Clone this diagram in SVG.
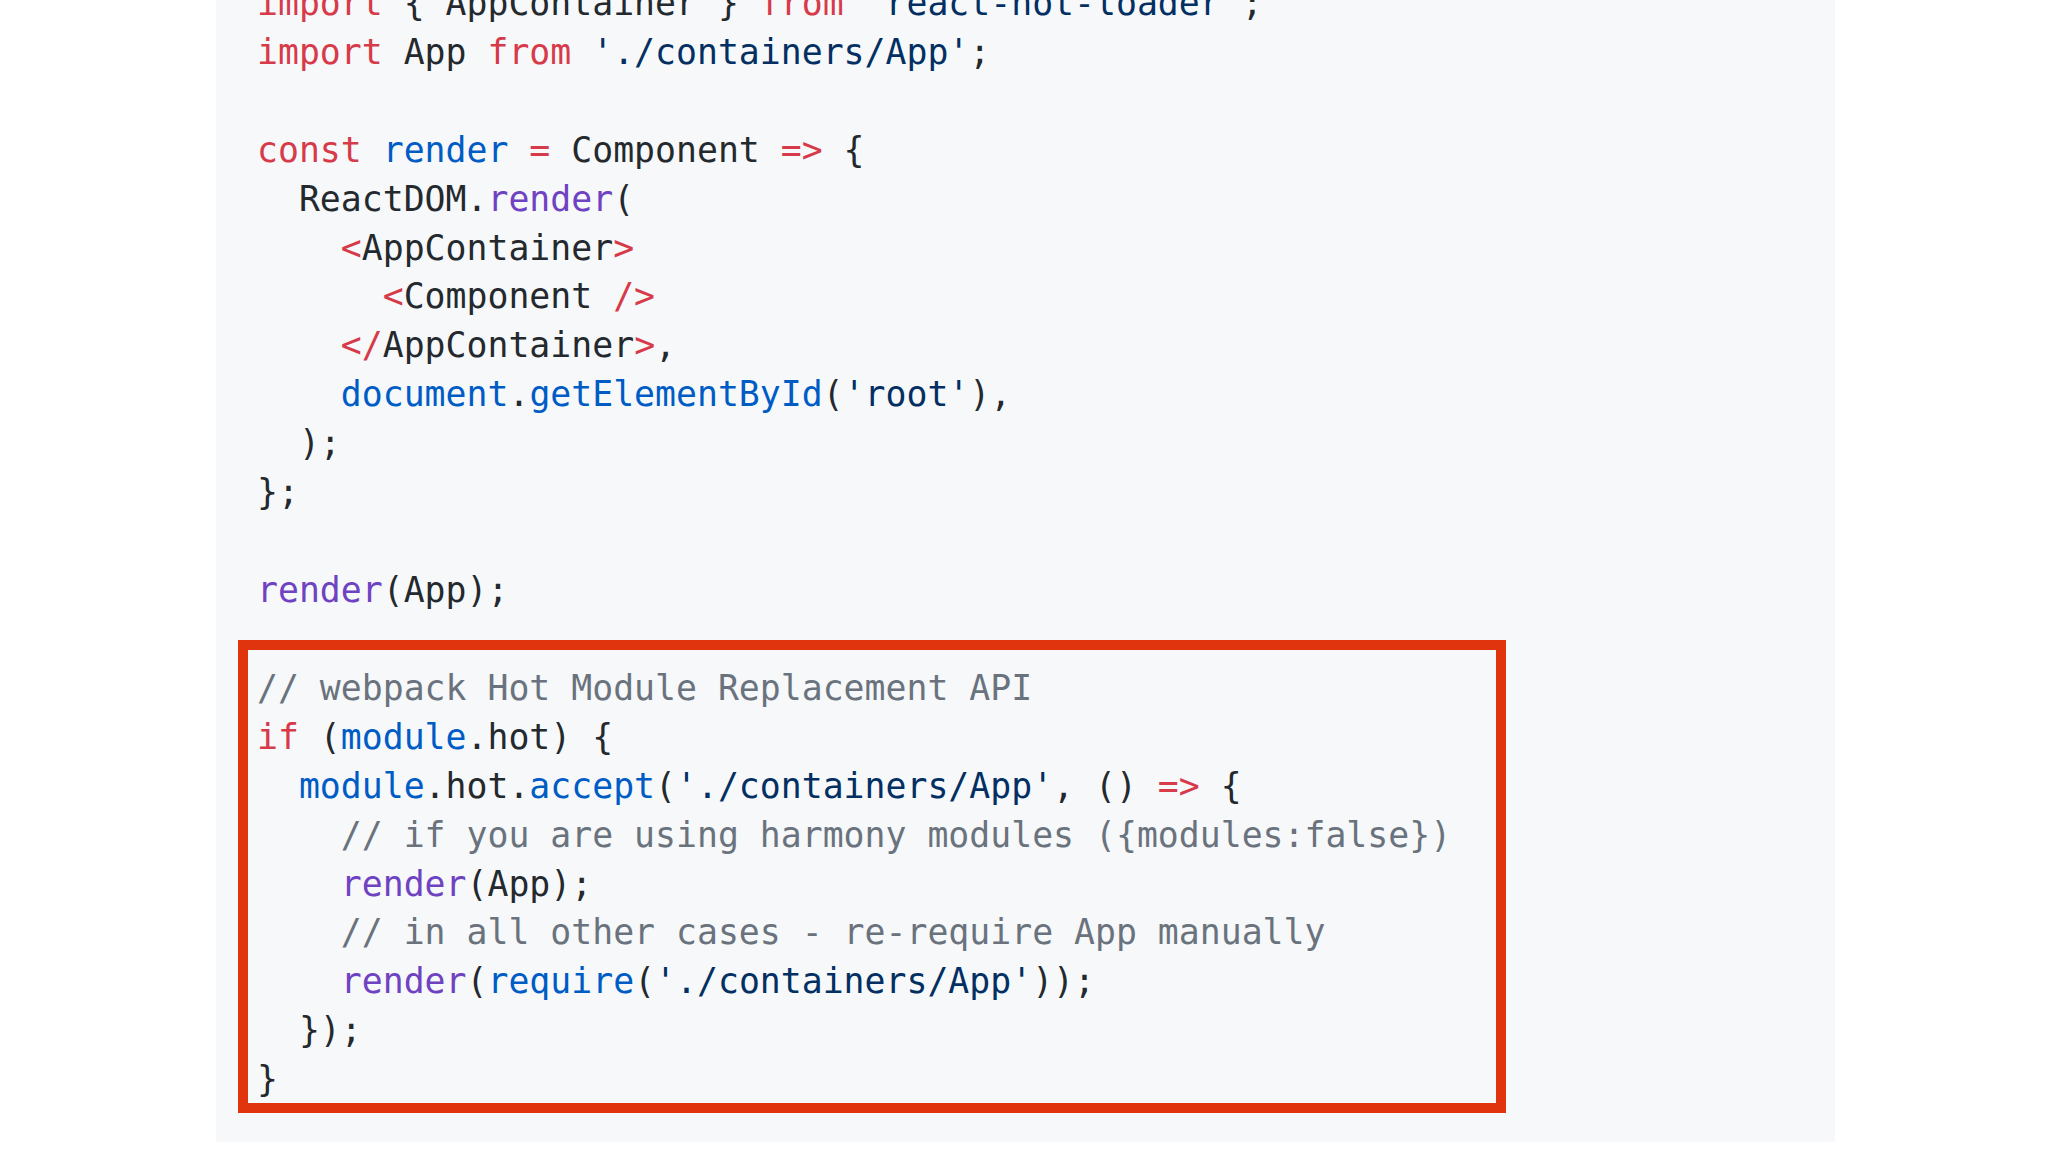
<svg xmlns="http://www.w3.org/2000/svg" width="2048" height="1152" viewBox="0 0 2048 1152">
<style>
text{font-family:"DejaVu Sans Mono","Liberation Mono",monospace;font-size:34.8px;fill:#24292e;white-space:pre}
.k{fill:#d73a49}.f{fill:#005cc5}.p{fill:#6f42c1}.s{fill:#032f62}.c{fill:#6a737d}
</style>
<rect width="2048" height="1152" fill="#ffffff"/>
<rect x="216" y="0" width="1619" height="1142" fill="#f6f8fa"/>
<g id="code" xml:space="preserve">
<text x="257" y="15"><tspan class="k">import</tspan> { AppContainer } <tspan class="k">from</tspan> <tspan class="s">'react-hot-loader'</tspan>;</text>
<text x="257" y="64"><tspan class="k">import</tspan> App <tspan class="k">from</tspan> <tspan class="s">'./containers/App'</tspan>;</text>
<text x="257" y="162"><tspan class="k">const</tspan> <tspan class="f">render</tspan> <tspan class="k">=</tspan> Component <tspan class="k">=&gt;</tspan> {</text>
<text x="257" y="211">  ReactDOM.<tspan class="p">render</tspan>(</text>
<text x="257" y="260">    <tspan class="k">&lt;</tspan>AppContainer<tspan class="k">&gt;</tspan></text>
<text x="257" y="308">      <tspan class="k">&lt;</tspan>Component <tspan class="k">/&gt;</tspan></text>
<text x="257" y="357">    <tspan class="k">&lt;/</tspan>AppContainer<tspan class="k">&gt;</tspan>,</text>
<text x="257" y="406">    <tspan class="f">document</tspan>.<tspan class="f">getElementById</tspan>(<tspan class="s">'root'</tspan>),</text>
<text x="257" y="455">  );</text>
<text x="257" y="504">};</text>
<text x="257" y="602"><tspan class="p">render</tspan>(App);</text>
<text x="257" y="700" class="c">// webpack Hot Module Replacement API</text>
<text x="257" y="749"><tspan class="k">if</tspan> (<tspan class="f">module</tspan>.hot) {</text>
<text x="257" y="798">  <tspan class="f">module</tspan>.hot.<tspan class="f">accept</tspan>(<tspan class="s">'./containers/App'</tspan>, () <tspan class="k">=&gt;</tspan> {</text>
<text x="257" y="847" class="c">    // if you are using harmony modules ({modules:false})</text>
<text x="257" y="896">    <tspan class="p">render</tspan>(App);</text>
<text x="257" y="944" class="c">    // in all other cases - re-require App manually</text>
<text x="257" y="993">    <tspan class="p">render</tspan>(<tspan class="f">require</tspan>(<tspan class="s">'./containers/App'</tspan>));</text>
<text x="257" y="1042">  });</text>
<text x="257" y="1091">}</text>
</g>
<g id="highlight">
<rect x="243" y="645" width="1258" height="463" fill="none" stroke="#e0340f" stroke-width="10"/>
</g>
</svg>
